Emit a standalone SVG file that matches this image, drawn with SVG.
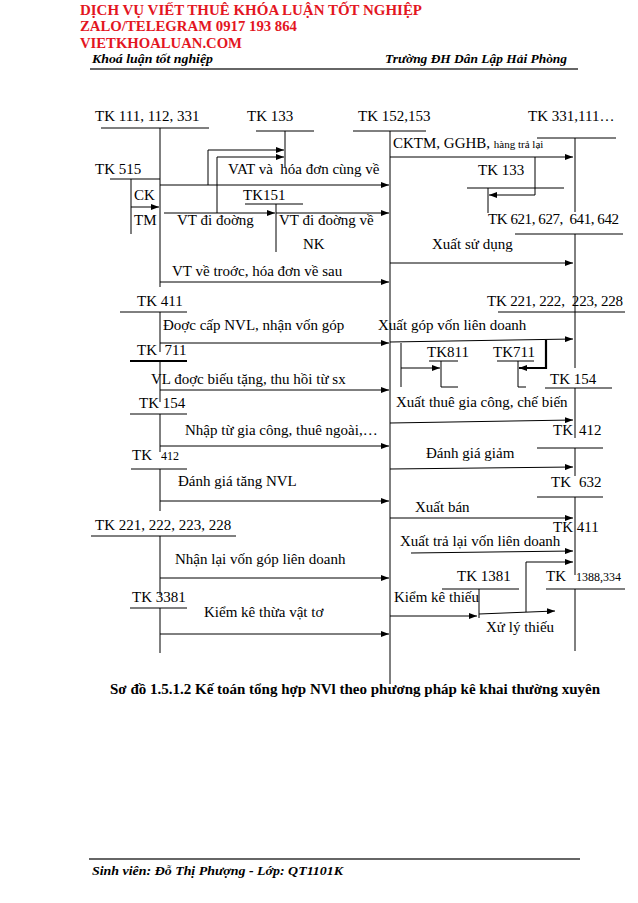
<svg xmlns="http://www.w3.org/2000/svg" width="638" height="903" viewBox="0 0 638 903">
<defs>
<marker id="ah" markerWidth="8" markerHeight="6" refX="8" refY="3" orient="auto" markerUnits="userSpaceOnUse"><path d="M0,0 L8,3 L0,6 z" fill="#000"/></marker>
<style>
text{font-family:"Liberation Serif","Times New Roman",serif;font-size:15px;fill:#000;white-space:pre}
.red{font-weight:bold;fill:#e3161f;font-size:15px}
.hd{font-weight:bold;font-style:italic;font-size:13.5px}
.ln{stroke:#000;stroke-width:1;fill:none}
.th{stroke-width:2.2}
.ar{marker-end:url(#ah)}
.sm{font-size:12px}
.xs{font-size:11px}
.cap{font-weight:bold}
.rule{stroke:#666;stroke-width:1.8;fill:none}
</style>
</defs>
<rect width="638" height="903" fill="#fff"/>
<g id="header">
<text class="red" x="80" y="15" textLength="342" lengthAdjust="spacingAndGlyphs">DỊCH VỤ VIẾT THUÊ KHÓA LUẬN TỐT NGHIỆP</text>
<text class="red" x="80" y="31" textLength="217" lengthAdjust="spacingAndGlyphs">ZALO/TELEGRAM 0917 193 864</text>
<text class="red" x="80" y="48" textLength="162" lengthAdjust="spacingAndGlyphs">VIETKHOALUAN.COM</text>
<text class="hd" x="92" y="63" textLength="121" lengthAdjust="spacingAndGlyphs">Khoá luận tốt nghiệp</text>
<text class="hd" x="385" y="63" textLength="182" lengthAdjust="spacingAndGlyphs">Trường ĐH Dân Lập Hải Phòng</text>
<path class="rule" d="M90,69 H578"/>
</g>
<g id="tk111"><text x="95" y="121">TK 111, 112, 331</text><path class="ln" d="M101,128 H209 M160,128 V287"/></g>
<g id="tk133a"><text x="247" y="121">TK 133</text><path class="ln" d="M256,131 H314 M285,131 V167"/></g>
<g id="tk152"><text x="358" y="121">TK 152,153</text><path class="ln" d="M353,131 H426 M390,131 V684"/></g>
<g id="tk331"><text x="528" y="121">TK 331,111…</text><path class="ln" d="M537,138 H616 M575,138 V212"/></g>
<g id="tk515"><text x="95" y="174">TK 515</text><path class="ln" d="M110,179 H160 M131,179 V234"/></g>
<g id="tk133b"><text x="478" y="175">TK 133</text><path class="ln" d="M467,188 H564 M488,188 V213"/></g>
<g id="tk151"><text x="243" y="200">TK151</text><path class="ln" d="M245,204 H303 M276,204 V252"/></g>
<g id="tk621"><text x="488" y="224" textLength="131">TK 621, 627,  641, 642</text><path class="ln" d="M515,234 H623 M575,234 V312"/></g>
<g id="tk411"><text x="137" y="306">TK 411</text><path class="ln" d="M120,312 H187 M160,312 V352"/></g>
<g id="tk221r"><text x="487" y="306" textLength="136">TK 221, 222,  223, 228</text><path class="ln" d="M498,312 H625 M575,312 V368"/></g>
<g id="tk711"><text x="137" y="355">TK  711</text><path class="ln th" d="M130,361 H187"/><path class="ln" d="M160,361 V402"/></g>
<g id="tk811"><text x="427" y="357">TK811</text><path class="ln" d="M429,361 H458 M441,361 V387 H458"/></g>
<g id="tk711b"><text x="493" y="357">TK711</text><path class="ln" d="M497,361 H534 M518,361 V387 H526"/></g>
<g id="tk154r"><text x="550" y="384">TK 154</text><path class="ln" d="M545,388 H612 M575,388 V438"/></g>
<g id="tk154l"><text x="139" y="408">TK 154</text><path class="ln" d="M130,414 H187 M160,414 V452"/></g>
<g id="tk412r"><text x="553" y="435">TK<tspan x="579">412</tspan></text><path class="ln" d="M537,448 H603 M575,448 V476"/></g>
<g id="tk412l"><text x="132" y="460">TK<tspan class="sm" x="161">412</tspan></text><path class="ln" d="M131,469 H187 M160,469 V511"/></g>
<g id="tk632"><text x="551" y="487">TK<tspan x="579">632</tspan></text><path class="ln" d="M537,497 H603 M575,497 V521"/></g>
<g id="tk411r"><text x="553" y="532">TK 411</text><path class="ln" d="M575,521 V575"/></g>
<g id="tk221l"><text x="95" y="530">TK 221, 222, 223, 228</text><path class="ln" d="M91,536 H236 M160,536 V595"/></g>
<g id="tk1381"><text x="457" y="581">TK 1381</text><path class="ln" d="M442,589 H519 M479,589 V618"/></g>
<g id="tk1388"><text x="546" y="581">TK<tspan class="sm" x="576">1388,334</tspan></text><path class="ln" d="M546,589 H625 M575,589 V651"/></g>
<g id="tk3381"><text x="132" y="602">TK 3381</text><path class="ln" d="M130,608 H187 M160,608 V653"/></g>
<g id="connectors">
<path class="ln ar" d="M390,157 H573"/>
<path class="ln ar" d="M535,157 V195 H489"/>
<path class="ln ar" d="M208,185 V150 H284"/>
<path class="ln ar" d="M217,213 V157 H284"/>
<path class="ln ar" d="M160,185 H389"/>
<path class="ln ar" d="M131,207 H159"/>
<path class="ln ar" d="M164,213 H275"/>
<path class="ln ar" d="M276,213 H389"/>
<path class="ln ar" d="M390,263 H573"/>
<path class="ln ar" d="M160,282 H389"/>
<path class="ln ar" d="M160,343 H389"/>
<path class="ln ar" d="M390,342 L573,339"/>
<path class="ln" d="M401,343 V387"/>
<path class="ln ar" d="M401,368 H440"/>
<path class="ln th ar" d="M546,340 V368 H519"/>
<path class="ln ar" d="M160,390 H389"/>
<path class="ln ar" d="M390,423 L573,420"/>
<path class="ln ar" d="M160,446 H389"/>
<path class="ln ar" d="M390,469 L573,467"/>
<path class="ln ar" d="M160,501 H389"/>
<path class="ln ar" d="M390,518 H573"/>
<path class="ln ar" d="M411,553 L573,551"/>
<path class="ln ar" d="M526,612 V562 H573"/>
<path class="ln ar" d="M160,578 H389"/>
<path class="ln ar" d="M390,616 H477"/>
<path class="ln ar" d="M479,614 L555,611"/>
<path class="ln ar" d="M160,634 H389"/>
</g>
<g id="labels">
<text x="393" y="148">CKTM, GGHB, <tspan class="xs">hàng trả lại</tspan></text>
<text x="228" y="174">VAT và  hóa đơn cùng về</text>
<text x="134" y="200">CK</text>
<text x="134" y="225">TM</text>
<text x="177" y="225">VT đi đoờng</text>
<text x="279" y="225">VT đi đoờng về</text>
<text x="303" y="249">NK</text>
<text x="432" y="249">Xuất sử dụng</text>
<text x="172" y="276">VT về troớc, hóa đơn về sau</text>
<text x="163" y="330">Đoợc cấp NVL, nhận vốn góp</text>
<text x="378" y="330">Xuất góp vốn liên doanh</text>
<text x="151" y="384">VL đoợc biếu tặng, thu hồi từ sx</text>
<text x="396" y="407">Xuất thuê gia công, chế biến</text>
<text x="185" y="435">Nhập từ gia công, thuê ngoài,…</text>
<text x="426" y="458">Đánh giá giảm</text>
<text x="178" y="486">Đánh giá tăng NVL</text>
<text x="415" y="512">Xuất bán</text>
<text x="400" y="546">Xuất trả lại vốn liên doanh</text>
<text x="175" y="564">Nhận lại vốn góp liên doanh</text>
<text x="394" y="602">Kiểm kê thiếu</text>
<text x="204" y="617">Kiểm kê thừa vật tơ</text>
<text x="486" y="632">Xử lý thiếu</text>
<text class="cap" x="110" y="694" textLength="490" lengthAdjust="spacingAndGlyphs">Sơ đồ 1.5.1.2 Kế toán tổng hợp NVl theo phương pháp kê khai thường xuyên</text>
</g>
<g id="footer">
<path class="rule" d="M89,859 H580"/>
<text class="hd" x="92" y="875" font-size="14" textLength="251" lengthAdjust="spacingAndGlyphs">Sinh viên: Đỗ Thị Phượng - Lớp: QT1101K</text>
</g>
</svg>
